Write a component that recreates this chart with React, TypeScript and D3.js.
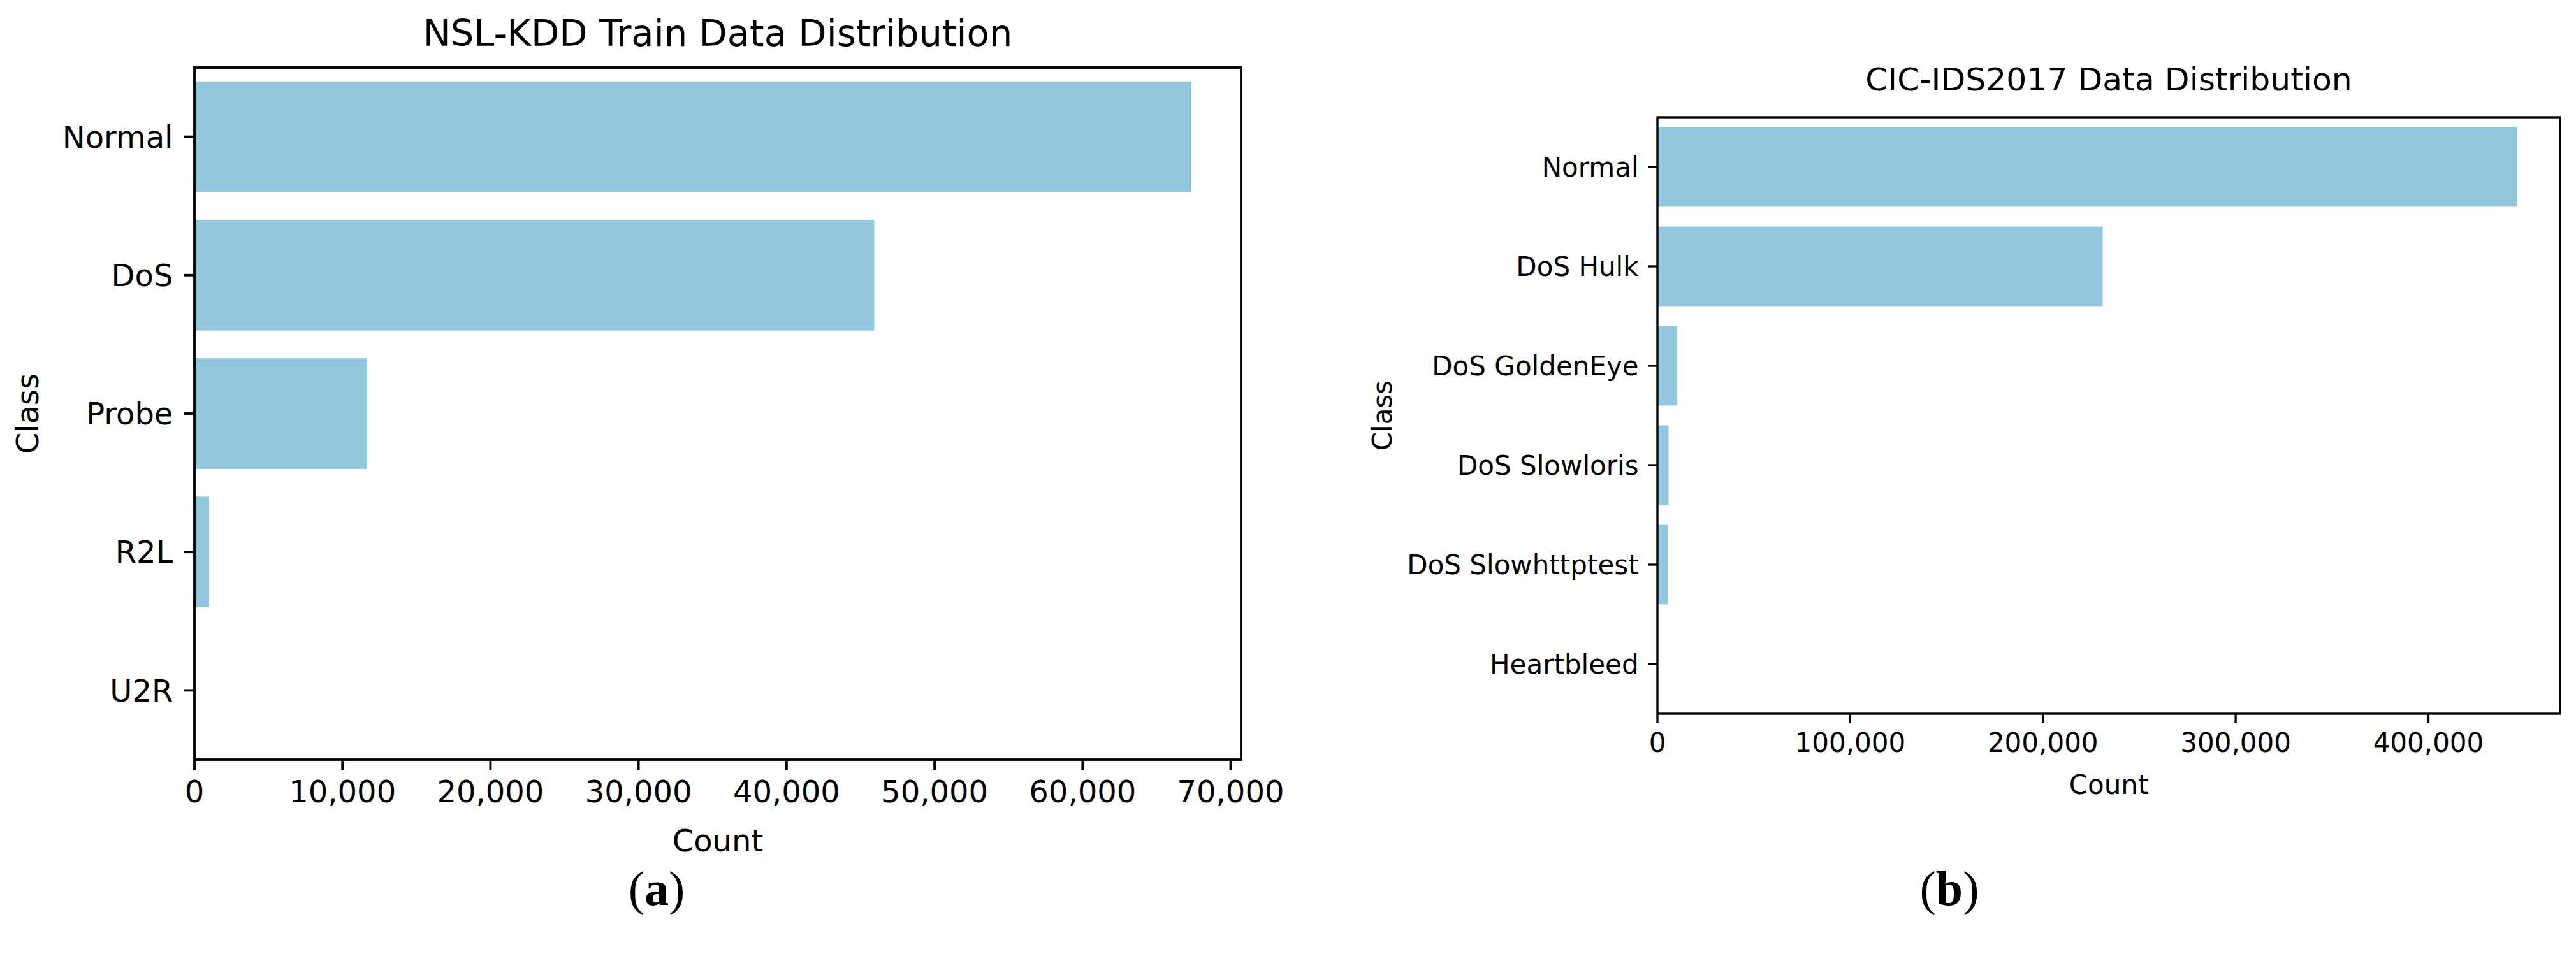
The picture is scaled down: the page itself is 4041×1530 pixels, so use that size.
import * as d3 from "d3";

// NSL-KDD train set
const nslClasses = ["Normal", "DoS", "Probe", "R2L", "U2R"];
const nslCounts = [67343, 45927, 11656, 995, 52];
const nslTicks = [0, 10000, 20000, 30000, 40000, 50000, 60000, 70000];

// CIC-IDS2017
const cicClasses = ["Normal", "DoS Hulk", "DoS GoldenEye", "DoS Slowloris", "DoS Slowhttptest", "Heartbleed"];
const cicCounts = [446000, 231073, 10293, 5796, 5499, 11];
const cicTicks = [0, 100000, 200000, 300000, 400000];

const BAR = "#93c7dd";
const FONT = "DejaVu Sans";
const fmt = d3.format(",");

type PanelProps = {
  title: string;
  classes: string[];
  counts: number[];
  ticks: number[];
  left: number;
  right: number;
  top: number;
  bottom: number;
  pt: number; // pixels per point
  yLabelX: number;
  titleY: number;
  tickY: number; // baseline of x tick labels
  countY: number; // baseline of x axis label
};

function Panel(p: PanelProps) {
  const { title, classes, counts, ticks, left, right, top, bottom, pt } = p;
  const x = d3
    .scaleLinear()
    .domain([0, d3.max(counts)! * 1.05])
    .range([left, right]);
  const y = d3
    .scaleBand<string>()
    .domain(classes)
    .range([top, bottom])
    .paddingInner(0.2)
    .paddingOuter(0.1);
  const fs = 10 * pt;
  const tickLen = 3.5 * pt;
  const pad = 3.5 * pt;
  const lw = 0.8 * pt;
  const cy = (top + bottom) / 2;
  return (
    <g fontFamily={FONT} fill="#000">
      {classes.map((c, i) => (
        <rect
          key={c}
          x={x(0)}
          y={y(c)}
          width={x(counts[i]) - x(0)}
          height={y.bandwidth()}
          fill={BAR}
        />
      ))}
      <rect
        x={left}
        y={top}
        width={right - left}
        height={bottom - top}
        fill="none"
        stroke="#000"
        strokeWidth={lw}
      />
      {classes.map((c) => {
        const ty = y(c)! + y.bandwidth() / 2;
        return (
          <g key={c}>
            <line x1={left - tickLen} x2={left} y1={ty} y2={ty} stroke="#000" strokeWidth={lw} />
            <text x={left - tickLen - pad} y={ty} dy="0.36em" textAnchor="end" fontSize={fs}>
              {c}
            </text>
          </g>
        );
      })}
      {ticks.map((t) => (
        <g key={t}>
          <line x1={x(t)} x2={x(t)} y1={bottom} y2={bottom + tickLen} stroke="#000" strokeWidth={lw} />
          <text x={x(t)} y={p.tickY} textAnchor="middle" fontSize={fs}>
            {fmt(t)}
          </text>
        </g>
      ))}
      <text x={(left + right) / 2} y={p.countY} textAnchor="middle" fontSize={fs}>
        Count
      </text>
      <text
        transform={`translate(${p.yLabelX},${cy}) rotate(-90)`}
        textAnchor="middle"
        fontSize={fs}
      >
        Class
      </text>
      <text x={(left + right) / 2} y={p.titleY} textAnchor="middle" fontSize={12 * pt}>
        {title}
      </text>
    </g>
  );
}

export default function App() {
  return (
    <svg
      width={4041}
      height={1530}
      style={{ position: "absolute", left: 0, top: 0, background: "#fff" }}
    >
      <rect width={4041} height={1530} fill="#fff" />
      <Panel
        title="NSL-KDD Train Data Distribution"
        classes={nslClasses}
        counts={nslCounts}
        ticks={nslTicks}
        left={305}
        right={1947}
        top={106}
        bottom={1192}
        pt={4.8}
        yLabelX={60}
        titleY={72}
        tickY={1259}
        countY={1336}
      />
      <Panel
        title="CIC-IDS2017 Data Distribution"
        classes={cicClasses}
        counts={cicCounts}
        ticks={cicTicks}
        left={2600}
        right={4016}
        top={184}
        bottom={1120}
        pt={4.2}
        yLabelX={2183}
        titleY={142}
        tickY={1180}
        countY={1246}
      />
      <g fontFamily="Liberation Serif" fontSize={76} textAnchor="middle">
        <text x={1030} y={1420}>
          (<tspan fontWeight="bold">a</tspan>)
        </text>
        <text x={3058} y={1420}>
          (<tspan fontWeight="bold">b</tspan>)
        </text>
      </g>
    </svg>
  );
}
